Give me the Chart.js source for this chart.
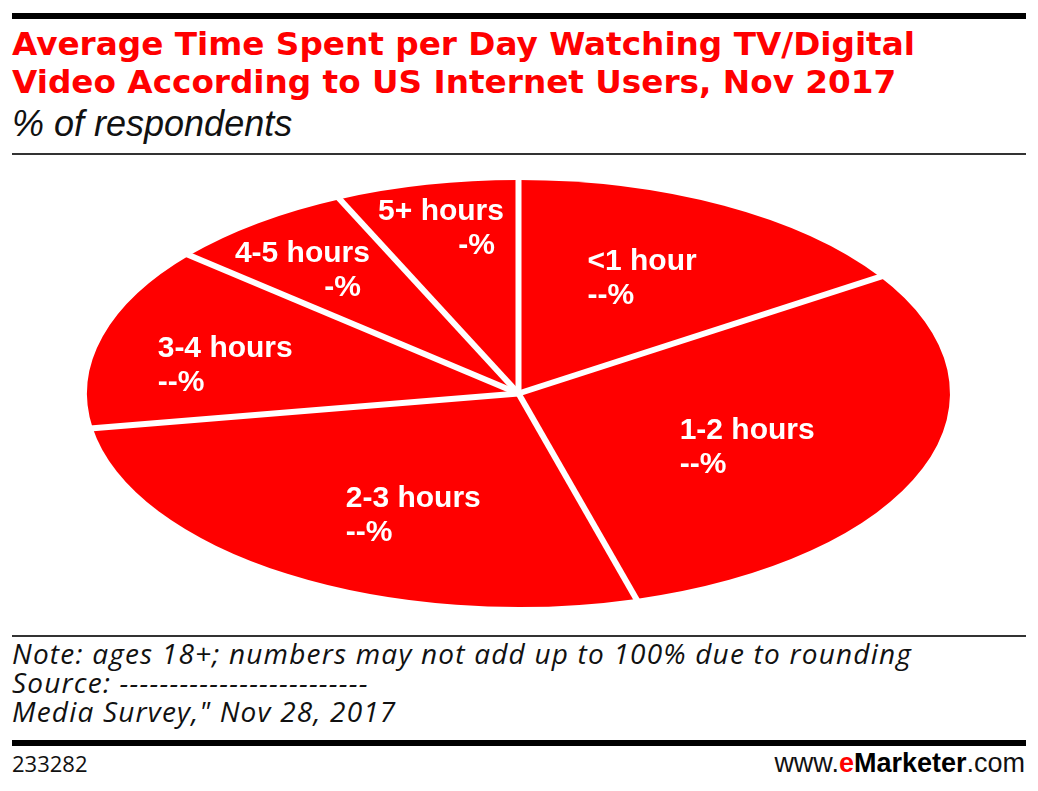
<!DOCTYPE html>
<html>
<head>
<meta charset="utf-8">
<script src="https://cdn.jsdelivr.net/npm/chart.js@4.4.1/dist/chart.umd.min.js"></script>
<style>
    body {
        margin: 0;
        background: #fff;
    }
    .page {
        position: relative;
        width: 1038px;
        height: 791px;
        overflow: hidden;
        background: #fff;
    }
    .bar {
        position: absolute;
        left: 12px;
        width: 1014px;
        background: #000;
    }
    .title {
        position: absolute;
        left: 12px;
        top: 25px;
        font: bold 32.7px/38px "DejaVu Sans", sans-serif;
        color: #ff0000;
        white-space: nowrap;
    }
    .subtitle {
        position: absolute;
        left: 12px;
        top: 104px;
        font: italic 36px/40px "Liberation Sans", sans-serif;
        color: #111;
    }
    .chart_box {
        position: absolute;
        left: 0;
        top: 175px;
        width: 1037px;
        height: 437px;
    }
    .note {
        position: absolute;
        left: 12px;
        top: 639px;
        font: italic 28px/29px "Open Sans", sans-serif;
        letter-spacing: 1.2px;
        color: #111;
        white-space: nowrap;
    }
    .chart_id {
        position: absolute;
        left: 12px;
        top: 750px;
        font: 22px/26px "Open Sans", sans-serif;
        color: #111;
    }
    .brand {
        position: absolute;
        right: 13px;
        top: 747px;
        font: 27px/32px "Liberation Sans", sans-serif;
        color: #111;
    }
    .brand b {
        color: #000;
    }
    .brand .e {
        color: #ff0000;
    }
</style>
</head>
<body>
<div class="page">
    <div class="bar" style="top: 13px; height: 6px"></div>
    <div class="title">
        Average Time Spent per Day Watching TV/Digital<br>
        Video According to US Internet Users, Nov 2017
    </div>
    <div class="subtitle">% of respondents</div>
    <div class="bar" style="top: 153px; height: 2px; background: #333"></div>

    <div class="chart_box">
        <canvas id="timeSpent"></canvas>
    </div>

    <div class="bar" style="top: 635px; height: 2px; background: #333"></div>
    <div class="note">
        Note: ages 18+; numbers may not add up to 100% due to rounding<br>
        Source: -------------------------<br>
        Media Survey," Nov 28, 2017
    </div>
    <div class="bar" style="top: 740px; height: 6px"></div>
    <div class="chart_id">233282</div>
    <div class="brand">www.<b><span class="e">e</span>Marketer</b>.com</div>
</div>

<script>
    const CATEGORIES = ["<1 hour", "1-2 hours", "2-3 hours", "3-4 hours", "4-5 hours", "5+ hours"];
    const SHARES = [15.8, 29.8, 26.8, 13.8, 7.0, 6.8];
    const VALUE_LABELS = ["--%", "--%", "--%", "--%", "-%", "-%"];

    // the original pie is squashed into an ellipse, so stretch the circle sideways
    const ellipsePie = {
        id: "ellipsePie",
        beforeDatasetsDraw(chart, args, opts) {
            const first = chart.getDatasetMeta(0).data[0];
            const ctx = chart.ctx;
            ctx.save();
            ctx.translate(first.x, 0);
            ctx.scale(opts.stretch, 1);
            ctx.translate(-first.x, 0);
        },
        afterDatasetsDraw(chart, args, opts) {
            const ctx = chart.ctx;
            ctx.restore();

            const arcs = chart.getDatasetMeta(0).data;

            // white gaps between slices, even width after stretching
            ctx.save();
            ctx.strokeStyle = "#fff";
            ctx.lineWidth = opts.gap;
            arcs.forEach((a) => {
                const r = a.outerRadius + 6;
                ctx.beginPath();
                ctx.moveTo(a.x, a.y);
                ctx.lineTo(
                    a.x + Math.cos(a.startAngle) * r * opts.stretch,
                    a.y + Math.sin(a.startAngle) * r
                );
                ctx.stroke();
            });

            // slice labels
            ctx.fillStyle = "#fff";
            ctx.font = opts.font;
            ctx.textBaseline = "alphabetic";
            arcs.forEach((a, i) => {
                const mid = (a.startAngle + a.endAngle) / 2;
                const r = a.outerRadius * opts.fraction;
                const nudge = opts.nudge[i];
                const bx = a.x + Math.cos(mid) * r * opts.stretch + nudge[0];
                const by = a.y + Math.sin(mid) * r + nudge[1];
                const name = CATEGORIES[i];
                const w = ctx.measureText(name).width;
                const left = bx - w / 2;
                ctx.textAlign = "left";
                ctx.fillText(name, left, by - 6);
                if (opts.valueAlign[i] === "right") {
                    ctx.textAlign = "right";
                    ctx.fillText(VALUE_LABELS[i], left + w - 9, by + 28);
                } else {
                    ctx.fillText(VALUE_LABELS[i], left, by + 28);
                }
            });
            ctx.restore();
        },
    };

    new Chart(document.getElementById("timeSpent"), {
        type: "pie",
        data: {
            labels: CATEGORIES,
            datasets: [
                {
                    data: SHARES,
                    backgroundColor: "#ff0000",
                    borderWidth: 0,
                    hoverOffset: 0,
                    offset: 0,
                },
            ],
        },
        options: {
            responsive: true,
            maintainAspectRatio: false,
            animation: false,
            events: [],
            layout: {
                padding: { top: 5, bottom: 5 },
            },
            plugins: {
                legend: { display: false },
                tooltip: { enabled: false },
                ellipsePie: {
                    stretch: 2.021,
                    gap: 6,
                    fraction: 0.65,
                    font: "bold 30px 'Liberation Sans', sans-serif",
                    nudge: [
                        [-10, 5],
                        [-34, 3],
                        [45, 2],
                        [-23, 7],
                        [-47, -15],
                        [-18, -32],
                    ],
                    valueAlign: ["left", "left", "left", "left", "right", "right"],
                },
            },
        },
        plugins: [ellipsePie],
    });
</script>
</body>
</html>
